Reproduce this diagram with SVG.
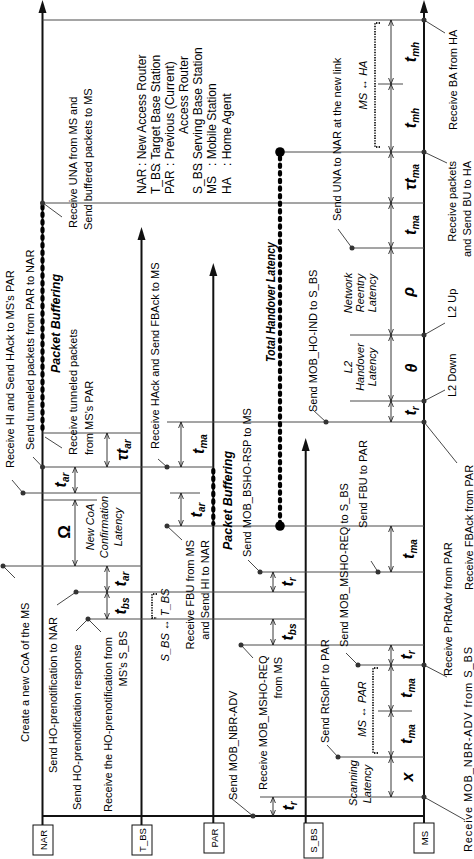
<svg xmlns="http://www.w3.org/2000/svg" width="474" height="859" viewBox="0 0 474 859">
<defs>
<marker id="ah" viewBox="0 0 6 6" refX="6" refY="3" markerWidth="6" markerHeight="6" markerUnits="userSpaceOnUse" orient="auto-start-reverse"><path d="M0,0.6 L6,3 L0,5.4" fill="none" stroke="#222" stroke-width="0.9"/></marker>
</defs>
<style>
.t{font-family:"Liberation Sans",Arial,sans-serif;font-size:11px;fill:#000}
.lg{font-size:12px}
.i{font-style:italic}
.bi{font-weight:bold;font-style:italic;font-size:12.5px}
.bx{font-size:9.5px}
.m{font-family:"Liberation Sans",Arial,sans-serif;font-weight:bold;font-style:italic;font-size:16px;fill:#000}
.up{font-style:normal;font-size:17px}
.sb{font-size:10px}
.ev{stroke:#4a4a4a;stroke-width:1;fill:none}
.ld{stroke:#333;stroke-width:0.9;fill:none}
.life{stroke:#111;stroke-width:2;fill:none}
.dim{stroke:#222;stroke-width:0.9;fill:none;marker-start:url(#ah);marker-end:url(#ah)}
.dt{fill:#333}
.bead{stroke:#000;stroke-width:4.2;stroke-linecap:round;stroke-dasharray:2.4 5.2;fill:none}
.br{stroke:#222;stroke-width:1.8;stroke-dasharray:1.4 1.2;fill:none}
.box{fill:#fff;stroke:#111;stroke-width:1}
</style>
<rect width="474" height="859" fill="#fff"/>

<!-- Nodes (lifelines) -->
<g id="NAR">
<line class="life" x1="42.5" y1="10" x2="42.5" y2="825"/>
<polygon points="42.5,0 38.5,13 46.5,13" fill="#111"/>
<rect class="box" x="33" y="825" width="20" height="30"/>
<text class="t bx" text-anchor="middle" transform="translate(46.5,840) rotate(-90)">NAR</text>
</g>
<g id="T_BS">
<line class="life" x1="141.5" y1="236" x2="141.5" y2="825"/>
<polygon points="141.5,227 137.5,240 145.5,240" fill="#111"/>
<rect class="box" x="132" y="825" width="20" height="30"/>
<text class="t bx" text-anchor="middle" transform="translate(145.5,840) rotate(-90)">T_BS</text>
</g>
<g id="PAR">
<line class="life" x1="213.3" y1="272" x2="213.3" y2="823"/>
<polygon points="213.3,263 209.3,276 217.3,276" fill="#111"/>
<rect class="box" x="204" y="823" width="20" height="30"/>
<text class="t bx" text-anchor="middle" transform="translate(217.5,838) rotate(-90)">PAR</text>
</g>
<g id="S_BS">
<line class="life" x1="305.7" y1="447" x2="305.7" y2="823"/>
<polygon points="305.7,438 301.7,451 309.7,451" fill="#111"/>
<rect class="box" x="304" y="823" width="19" height="35"/>
<text class="t bx" text-anchor="middle" transform="translate(316.5,840.5) rotate(-90)">S_BS</text>
</g>
<g id="MS">
<line class="life" x1="424" y1="10" x2="424" y2="823"/>
<polygon points="424,0 420,13 428,13" fill="#111"/>
<rect class="box" x="414" y="823" width="20" height="30"/>
<text class="t bx" text-anchor="middle" transform="translate(427.5,838) rotate(-90)">MS</text>
</g>

<!-- Connectors: event lines -->
<g id="connectors">
<line class="ev" x1="42.5" y1="20" x2="424" y2="20"/>
<line class="ev" x1="378" y1="84" x2="403" y2="84"/>
<line class="ev" x1="280" y1="152" x2="424" y2="152"/>
<line class="ev" x1="42.5" y1="203" x2="424" y2="203"/>
<line class="ev" x1="352" y1="248" x2="424" y2="248"/>
<line class="ev" x1="350" y1="335" x2="424" y2="335"/>
<line class="ev" x1="350" y1="401" x2="424" y2="401"/>
<line class="ev" x1="167" y1="422" x2="424" y2="422"/>
<line class="ev" x1="42.5" y1="433" x2="141.5" y2="433"/>
<line class="ev" x1="42.5" y1="467" x2="213.3" y2="467"/>
<line class="ev" x1="23" y1="493" x2="141.5" y2="493"/>
<line class="ev" x1="170" y1="493" x2="200" y2="493"/>
<line class="ev" x1="42.5" y1="500" x2="97" y2="500"/>
<line class="ev" x1="167" y1="526" x2="424" y2="526"/>
<line class="ev" x1="3" y1="566" x2="141.5" y2="566"/>
<line class="ev" x1="260" y1="572" x2="424" y2="572"/>
<line class="ev" x1="76" y1="592" x2="305.7" y2="592"/>
<line class="ev" x1="88" y1="619" x2="305.7" y2="619"/>
<line class="ev" x1="241" y1="645" x2="424" y2="645"/>
<line class="ev" x1="358" y1="665" x2="424" y2="665"/>
<line class="ev" x1="378" y1="711" x2="412" y2="711"/>
<line class="ev" x1="338" y1="757" x2="424" y2="757"/>
<line class="ev" x1="260" y1="797" x2="424" y2="797"/>
<line x1="42.5" y1="816" x2="424" y2="816" stroke="#111" stroke-width="2"/>

<!-- thick dotted (buffering / total latency) -->
<line class="bead" x1="42.5" y1="206" x2="42.5" y2="431"/>
<line class="bead" x1="213.3" y1="470" x2="213.3" y2="524"/>
<line class="bead" x1="280" y1="157" x2="280" y2="522"/>
<circle cx="280" cy="152" r="4.8" fill="#000"/>
<circle cx="280" cy="526" r="4.8" fill="#000"/>

<!-- dimension lines -->
<line class="dim" x1="75" y1="467" x2="75" y2="493"/>
<line class="dim" x1="75" y1="500" x2="75" y2="566"/>
<line class="dim" x1="107" y1="433" x2="107" y2="467"/>
<line class="dim" x1="107" y1="566" x2="107" y2="592"/>
<line class="dim" x1="107" y1="592" x2="107" y2="619"/>
<line class="dim" x1="181" y1="422" x2="181" y2="467"/>
<line class="dim" x1="181" y1="493" x2="181" y2="526"/>
<line class="dim" x1="273" y1="572" x2="273" y2="592"/>
<line class="dim" x1="273" y1="619" x2="273" y2="645"/>
<line class="dim" x1="273" y1="797" x2="273" y2="816"/>
<line class="dim" x1="391" y1="20" x2="391" y2="84"/>
<line class="dim" x1="391" y1="84" x2="391" y2="152"/>
<line class="dim" x1="391" y1="152" x2="391" y2="203"/>
<line class="dim" x1="391" y1="203" x2="391" y2="248"/>
<line class="dim" x1="391" y1="248" x2="391" y2="335"/>
<line class="dim" x1="391" y1="335" x2="391" y2="401"/>
<line class="dim" x1="391" y1="401" x2="391" y2="422"/>
<line class="dim" x1="391" y1="526" x2="391" y2="572"/>
<line class="dim" x1="391" y1="645" x2="391" y2="665"/>
<line class="dim" x1="391" y1="665" x2="391" y2="711"/>
<line class="dim" x1="391" y1="711" x2="391" y2="757"/>
<line class="dim" x1="391" y1="757" x2="391" y2="797"/>

<!-- brackets -->
<path class="br" d="M380,23 H375 V147 H380"/>
<path class="br" d="M378,668 H373 V753 H378"/>
<path class="br" d="M157,594 H152 V618 H157"/>

<!-- dots -->
<g class="dt">
<circle cx="42.5" cy="203" r="2.5"/>
<circle cx="424" cy="20" r="2.5"/>
<circle cx="424" cy="152" r="2.5"/>
<circle cx="352" cy="248" r="2.5"/>
<circle cx="424" cy="335" r="2.5"/>
<circle cx="424" cy="401" r="2.5"/>
<circle cx="424" cy="422" r="2.5"/>
<circle cx="326" cy="422" r="2.5"/>
<circle cx="167" cy="467" r="2.5"/>
<circle cx="42.5" cy="467" r="2.5"/>
<circle cx="23" cy="493" r="2.5"/>
<circle cx="167" cy="526" r="2.5"/>
<circle cx="3" cy="566" r="2.5"/>
<circle cx="260" cy="572" r="2.5"/>
<circle cx="378" cy="572" r="2.5"/>
<circle cx="76" cy="592" r="2.5"/>
<circle cx="88" cy="619" r="2.5"/>
<circle cx="241" cy="645" r="2.5"/>
<circle cx="358" cy="665" r="2.5"/>
<circle cx="424" cy="665" r="2.5"/>
<circle cx="338" cy="757" r="2.5"/>
<circle cx="424" cy="797" r="2.5"/>
<circle cx="253" cy="816" r="2.5"/>
</g>

<!-- leaders -->
<g class="ld">
<line x1="43" y1="203" x2="62" y2="217"/>
<line x1="424" y1="20" x2="445" y2="33"/>
<line x1="424" y1="152" x2="447" y2="163"/>
<line x1="352" y1="248" x2="338" y2="229"/>
<line x1="424" y1="335" x2="445" y2="323"/>
<line x1="424" y1="401" x2="445" y2="390"/>
<line x1="424" y1="422" x2="457" y2="463"/>
<line x1="326" y1="422" x2="313" y2="410"/>
<line x1="167" y1="467" x2="158" y2="459"/>
<line x1="42.5" y1="467" x2="33" y2="457"/>
<line x1="45" y1="437" x2="62" y2="448"/>
<line x1="23" y1="493" x2="12" y2="480"/>
<line x1="167" y1="526" x2="182" y2="540"/>
<line x1="3" y1="566" x2="15" y2="578"/>
<line x1="260" y1="572" x2="248" y2="560"/>
<line x1="378" y1="572" x2="371" y2="561"/>
<line x1="76" y1="592" x2="57" y2="605"/>
<line x1="88" y1="619" x2="76" y2="631"/>
<line x1="88" y1="619" x2="101" y2="632"/>
<line x1="241" y1="645" x2="253" y2="658"/>
<line x1="358" y1="665" x2="346" y2="653"/>
<line x1="424" y1="665" x2="447" y2="677"/>
<line x1="338" y1="757" x2="327" y2="745"/>
<line x1="424" y1="797" x2="465" y2="820"/>
<line x1="253" y1="816" x2="231" y2="798"/>
</g>
</g>

<!-- Legend -->
<g id="legend" class="t lg">
<text transform="translate(146,194) rotate(-90)">NAR</text>
<text transform="translate(146,166) rotate(-90)">: New Access Router</text>
<text transform="translate(160,194) rotate(-90)">T_BS</text>
<text transform="translate(160,166) rotate(-90)">: Target Base Station</text>
<text transform="translate(174,194) rotate(-90)">PAR</text>
<text transform="translate(174,166) rotate(-90)">: Previous (Current)</text>
<text transform="translate(188,134) rotate(-90)">Access Router</text>
<text transform="translate(202,194) rotate(-90)">S_BS</text>
<text transform="translate(202,166) rotate(-90)">: Serving Base Station</text>
<text transform="translate(216,194) rotate(-90)">MS</text>
<text transform="translate(216,166) rotate(-90)">: Mobile Station</text>
<text transform="translate(231,194) rotate(-90)">HA</text>
<text transform="translate(231,166) rotate(-90)">: Home Agent</text>
</g>

<!-- Event labels -->
<g id="labels" class="t">
<text transform="translate(77,228) rotate(-90)">Receive UNA from MS and</text>
<text transform="translate(92,230) rotate(-90)">Send buffered packets to MS</text>
<text transform="translate(14,468) rotate(-90)">Receive HI and Send HAck to MS’s PAR</text>
<text transform="translate(34,450) rotate(-90)">Send tunneled packets from PAR to NAR</text>
<text transform="translate(77,455) rotate(-90)">Receive tunneled packets</text>
<text transform="translate(93,455) rotate(-90)">from MS’s PAR</text>
<text transform="translate(159,449) rotate(-90)">Receive HAck and Send FBAck to MS</text>
<text transform="translate(29,742) rotate(-90)">Create a new CoA of the MS</text>
<text transform="translate(57,773) rotate(-90)">Send HO-prenotification to NAR</text>
<text transform="translate(81,810) rotate(-90)">Send HO-prenotification response</text>
<text transform="translate(112,812) rotate(-90)">Receive the HO-prenotification from</text>
<text text-anchor="end" transform="translate(127,631) rotate(-90)">MS’s S_BS</text>
<text text-anchor="end" transform="translate(194,540) rotate(-90)">Receive FBU from MS</text>
<text text-anchor="end" transform="translate(209,540) rotate(-90)">and Send HI to NAR</text>
<text transform="translate(251,557) rotate(-90)">Send MOB_BSHO-RSP to MS</text>
<text transform="translate(237,800) rotate(-90)">Send MOB_NBR-ADV</text>
<text transform="translate(267,790) rotate(-90)">Receive MOB_MSHO-REQ</text>
<text text-anchor="end" transform="translate(282,657) rotate(-90)">from MS</text>
<text transform="translate(348,647) rotate(-90)">Send MOB_MSHO-REQ to S_BS</text>
<text transform="translate(329,743) rotate(-90)">Send RtSolPr to PAR</text>
<text transform="translate(367,528) rotate(-90)">Send FBU to PAR</text>
<text transform="translate(317,412) rotate(-90)">Send MOB_HO-IND to S_BS</text>
<text transform="translate(341,221) rotate(-90)">Send UNA to NAR at the new link</text>
<text text-anchor="end" transform="translate(456,161) rotate(-90)">Receive packets</text>
<text text-anchor="end" transform="translate(471,161) rotate(-90)">and Send BU to HA</text>
<text transform="translate(457,130) rotate(-90)">Receive BA from HA</text>
<text transform="translate(456,318) rotate(-90)">L2 Up</text>
<text transform="translate(456,397) rotate(-90)">L2 Down</text>
<text transform="translate(473,590) rotate(-90)">Receive FBAck from PAR</text>
<text transform="translate(452,676) rotate(-90)">Receive PrRtAdv from PAR</text>
<text transform="translate(472,852) rotate(-90)" textLength="205" lengthAdjust="spacing">Receive MOB_NBR-ADV from S_BS</text>

<text class="bi" transform="translate(60,373) rotate(-90)">Packet Buffering</text>
<text class="bi" transform="translate(232,550) rotate(-90)">Packet Buffering</text>
<text class="bi" transform="translate(275,362) rotate(-90)" textLength="120" lengthAdjust="spacingAndGlyphs">Total Handover Latency</text>

<!-- italic latency labels -->
<g class="i" text-anchor="middle">
<text transform="translate(94,527) rotate(-90)">New CoA</text>
<text transform="translate(108,527) rotate(-90)">Confirmation</text>
<text transform="translate(122,527) rotate(-90)">Latency</text>
<text transform="translate(352,293) rotate(-90)">Network</text>
<text transform="translate(364,293) rotate(-90)">Reentry</text>
<text transform="translate(376,293) rotate(-90)">Latency</text>
<text transform="translate(352,367) rotate(-90)">L2</text>
<text transform="translate(364,367) rotate(-90)">Handover</text>
<text transform="translate(376,367) rotate(-90)">Latency</text>
<text transform="translate(357,783) rotate(-90)">Scanning</text>
<text transform="translate(371,784) rotate(-90)">Latency</text>
<text transform="translate(367,85) rotate(-90)">MS ↔ HA</text>
<text transform="translate(366,709) rotate(-90)">MS ↔ PAR</text>
<text transform="translate(169,625) rotate(-90)">S_BS ↔ T_BS</text>
</g>
</g>

<!-- Interval symbols -->
<g id="symbols" class="m" text-anchor="middle">
<text transform="translate(66,480) rotate(-90)">t<tspan class="sb" dy="3">ar</tspan></text>
<text class="up" transform="translate(70,532) rotate(-90)">Ω</text>
<text transform="translate(128,450) rotate(-90)">τt<tspan class="sb" dy="3">ar</tspan></text>
<text transform="translate(126,579) rotate(-90)">t<tspan class="sb" dy="3">ar</tspan></text>
<text transform="translate(126,606) rotate(-90)">t<tspan class="sb" dy="3">bs</tspan></text>
<text transform="translate(204,444) rotate(-90)">t<tspan class="sb" dy="3">ma</tspan></text>
<text transform="translate(202,510) rotate(-90)">t<tspan class="sb" dy="3">ar</tspan></text>
<text transform="translate(293,582) rotate(-90)">t<tspan class="sb" dy="3">r</tspan></text>
<text transform="translate(293,632) rotate(-90)">t<tspan class="sb" dy="3">bs</tspan></text>
<text transform="translate(294,806) rotate(-90)">t<tspan class="sb" dy="3">r</tspan></text>
<text transform="translate(416,52) rotate(-90)">t<tspan class="sb" dy="3">mh</tspan></text>
<text transform="translate(416,118) rotate(-90)">t<tspan class="sb" dy="3">mh</tspan></text>
<text transform="translate(416,177) rotate(-90)">τt<tspan class="sb" dy="3">ma</tspan></text>
<text transform="translate(416,225) rotate(-90)">t<tspan class="sb" dy="3">ma</tspan></text>
<text transform="translate(414,292) rotate(-90)">ρ</text>
<text transform="translate(417,368) rotate(-90)">θ</text>
<text transform="translate(416,411) rotate(-90)">t<tspan class="sb" dy="3">r</tspan></text>
<text transform="translate(414,549) rotate(-90)">t<tspan class="sb" dy="3">ma</tspan></text>
<text transform="translate(412,655) rotate(-90)">t<tspan class="sb" dy="3">r</tspan></text>
<text transform="translate(412,688) rotate(-90)">t<tspan class="sb" dy="3">ma</tspan></text>
<text transform="translate(412,734) rotate(-90)">t<tspan class="sb" dy="3">ma</tspan></text>
<text transform="translate(413,777) rotate(-90)">x</text>
</g>
</svg>
